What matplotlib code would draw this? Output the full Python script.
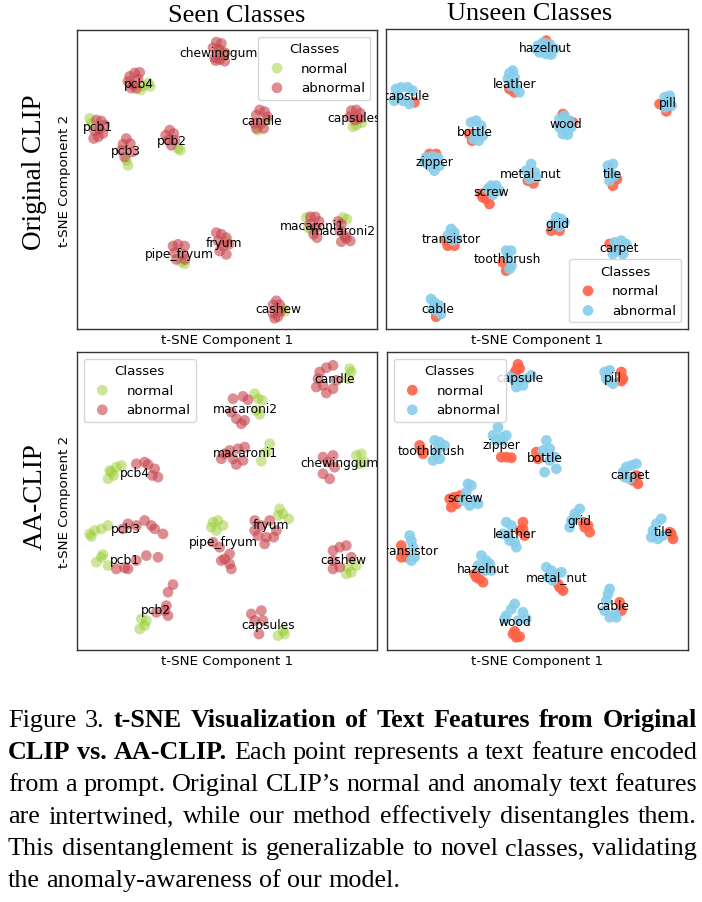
import matplotlib
matplotlib.use("Agg")
import matplotlib.pyplot as plt

# ---------------- data (t-SNE coordinates) ----------------
# Panel: Original CLIP, seen classes
so_label = {'chewinggum': (447, 90), 'pcb4': (207, 182), 'pcb1': (85, 310), 'pcb3': (170, 380),
            'pcb2': (308, 352), 'candle': (575, 292), 'capsules': (855, 283), 'macaroni1': (728, 603),
            'macaroni2': (820, 618), 'fryum': (462, 655), 'pipe_fryum': (328, 688), 'cashew': (625, 852)}
so_normal = {'chewinggum': [(455, 82), (462, 100)],
             'pcb4': [(222, 188), (236, 180), (214, 200), (242, 190)],
             'pcb1': [(60, 285), (65, 300)],
             'pcb3': [(175, 425), (170, 410)],
             'pcb2': [(325, 375), (332, 380)],
             'candle': [(565, 320), (590, 290)],
             'capsules': [(860, 305), (876, 298), (850, 310)],
             'macaroni1': [(710, 580), (715, 610), (725, 615)],
             'macaroni2': [(832, 585), (820, 580)],
             'fryum': [(470, 650)],
             'pipe_fryum': [(335, 712), (345, 718)],
             'cashew': [(645, 860), (640, 852)]}
so_abnormal = {'chewinggum': [(440, 58), (455, 62), (430, 75), (448, 80), (466, 90), (435, 105), (450, 110), (465, 115), (438, 113)],
               'pcb4': [(180, 160), (195, 150), (210, 148), (175, 175), (190, 185), (205, 168), (185, 195), (200, 196)],
               'pcb1': [(80, 290), (95, 293), (105, 305), (72, 345), (86, 340), (100, 330), (75, 322), (90, 318)],
               'pcb3': [(170, 345), (160, 362), (182, 360), (165, 400), (155, 380), (188, 385)],
               'pcb2': [(300, 320), (288, 335), (312, 330), (305, 365), (295, 350), (315, 350)],
               'candle': [(570, 260), (585, 265), (560, 275), (593, 280), (555, 300), (575, 300), (560, 315), (582, 315)],
               'capsules': [(845, 262), (860, 260), (872, 270), (840, 280), (855, 290), (870, 285)],
               'macaroni1': [(722, 578), (737, 578), (748, 592), (720, 600), (740, 610), (732, 630), (742, 640)],
               'macaroni2': [(805, 592), (815, 600), (810, 620), (825, 635), (815, 652), (842, 650), (830, 642)],
               'fryum': [(440, 625), (455, 630), (470, 640), (445, 650), (460, 665), (478, 660), (450, 680), (470, 690)],
               'pipe_fryum': [(310, 665), (325, 660), (345, 665), (315, 685), (340, 690), (320, 705), (346, 705)],
               'cashew': [(620, 828), (610, 840), (630, 840), (610, 865), (625, 875), (615, 880), (632, 860)]}

# Panel: Original CLIP, unseen classes
uo_label = {'hazelnut': (487, 72), 'leather': (395, 178), 'capsule': (70, 215), 'pill': (855, 237),
            'bottle': (275, 322), 'wood': (550, 300), 'zipper': (155, 412), 'metal_nut': (445, 446),
            'tile': (688, 448), 'screw': (325, 502), 'grid': (525, 600), 'transistor': (207, 643),
            'carpet': (708, 670), 'toothbrush': (375, 705), 'cable': (165, 855)}
uo_normal = {'hazelnut': [(490, 50)],
             'leather': [(380, 195), (395, 205)],
             'capsule': [(95, 235)],
             'pill': [(830, 240), (850, 262)],
             'bottle': [(260, 330), (268, 350)],
             'wood': [(540, 270), (570, 295)],
             'zipper': [(140, 390), (160, 390)],
             'metal_nut': [(452, 478), (435, 470)],
             'tile': [(702, 465), (690, 485)],
             'screw': [(295, 510), (310, 525), (320, 540), (300, 520)],
             'grid': [(505, 620), (530, 620)],
             'transistor': [(195, 665), (215, 665), (190, 650)],
             'carpet': [(680, 660), (690, 675)],
             'toothbrush': [(360, 715), (370, 740)],
             'cable': [(160, 878)]}
uo_abnormal = {'hazelnut': [(465, 65), (480, 56), (500, 60), (515, 75), (470, 85), (490, 90), (505, 92), (460, 75), (488, 70)],
               'leather': [(380, 148), (390, 140), (375, 165), (395, 160), (385, 185), (400, 192), (410, 205)],
               'capsule': [(40, 195), (55, 190), (75, 190), (90, 200), (45, 215), (60, 230), (80, 240), (35, 230)],
               'pill': [(845, 220), (860, 215), (850, 235), (866, 245), (846, 250)],
               'bottle': [(265, 295), (280, 290), (295, 305), (285, 330), (272, 345), (300, 335), (288, 350)],
               'wood': [(530, 285), (545, 275), (560, 290), (530, 310), (550, 320), (565, 310), (540, 330), (555, 332)],
               'zipper': [(130, 400), (150, 397), (166, 402), (140, 425), (155, 440), (170, 425), (125, 415)],
               'metal_nut': [(445, 420), (430, 440), (456, 445), (440, 465), (460, 460)],
               'tile': [(675, 425), (690, 420), (680, 445), (695, 455), (680, 470)],
               'screw': [(325, 485), (340, 485), (350, 500), (315, 495), (330, 512)],
               'grid': [(520, 580), (535, 585), (510, 600), (530, 608), (545, 595)],
               'transistor': [(205, 615), (215, 625), (195, 635), (210, 650), (222, 645)],
               'carpet': [(695, 655), (715, 650), (730, 660), (700, 680), (720, 690), (690, 690)],
               'toothbrush': [(370, 680), (385, 680), (375, 700), (386, 725), (380, 735)],
               'cable': [(145, 825), (155, 835), (170, 845), (160, 860), (175, 870), (150, 855)]}

# Panel: AA-CLIP, seen classes
sa_label = {'candle': (795, 105), 'macaroni2': (528, 193), 'macaroni1': (528, 327), 'chewinggum': (810, 355),
            'pcb4': (195, 385), 'pcb3': (170, 555), 'pcb1': (165, 648), 'pipe_fryum': (462, 593),
            'fryum': (605, 543), 'cashew': (820, 648), 'pcb2': (258, 797), 'capsules': (595, 842)}
sa_normal = {'candle': [(840, 75), (835, 105), (845, 85)],
             'macaroni2': [(555, 150), (565, 165), (578, 170), (560, 200), (570, 212)],
             'macaroni1': [(600, 300), (575, 352), (590, 325)],
             'chewinggum': [(860, 335), (875, 330), (885, 355), (870, 360)],
             'pcb4': [(115, 405), (125, 385), (140, 370), (155, 365), (120, 380), (132, 395)],
             'pcb3': [(65, 578), (75, 560), (95, 555), (115, 545), (60, 570)],
             'pcb1': [(80, 655), (95, 640), (100, 632), (115, 665)],
             'pipe_fryum': [(430, 535), (445, 530), (460, 545), (425, 550), (440, 560)],
             'fryum': [(630, 495), (640, 510), (657, 525), (625, 515)],
             'cashew': [(830, 690), (845, 685), (860, 665), (835, 670)],
             'pcb2': [(215, 825), (225, 845), (210, 855), (230, 830)],
             'capsules': [(625, 875), (645, 870), (640, 860)]}
sa_abnormal = {'candle': [(750, 85), (770, 72), (790, 65), (745, 105), (760, 125), (770, 148), (790, 135), (800, 110), (740, 130)],
               'macaroni2': [(490, 165), (520, 158), (535, 168), (485, 205), (500, 225), (515, 240), (525, 230)],
               'macaroni1': [(465, 330), (480, 320), (505, 315), (525, 310), (455, 345), (490, 345), (500, 362), (520, 350)],
               'chewinggum': [(760, 340), (790, 335), (775, 355), (795, 370), (760, 390), (780, 405)],
               'pcb4': [(200, 360), (225, 355), (235, 362), (255, 375), (265, 400), (248, 395)],
               'pcb3': [(175, 540), (200, 545), (225, 530), (245, 545), (255, 555), (280, 570), (160, 555)],
               'pcb1': [(140, 675), (175, 675), (165, 672), (230, 635), (265, 640), (200, 650)],
               'pipe_fryum': [(430, 595), (450, 610), (465, 645), (480, 630), (485, 675), (480, 660), (455, 650)],
               'fryum': [(555, 530), (575, 545), (600, 530), (620, 560), (565, 575), (590, 580), (612, 580), (585, 600), (555, 560)],
               'cashew': [(790, 620), (810, 610), (830, 605), (790, 650), (810, 670), (790, 675), (845, 640)],
               'pcb2': [(310, 722), (295, 745), (290, 785), (260, 805), (295, 815), (285, 800)],
               'capsules': [(545, 810), (575, 800), (555, 830), (568, 870), (580, 830)]}

# Panel: AA-CLIP, unseen classes
ua_label = {'capsule': (412, 100), 'pill': (690, 100), 'toothbrush': (145, 320), 'zipper': (355, 302),
            'bottle': (485, 340), 'carpet': (742, 392), 'screw': (247, 462), 'grid': (590, 530),
            'tile': (840, 563), 'leather': (395, 568), 'transistor': (80, 620), 'hazelnut': (302, 675),
            'metal_nut': (520, 697), 'cable': (690, 785), 'wood': (397, 832)}
ua_normal = {'capsule': [(405, 62), (410, 75), (395, 88), (400, 78)],
             'pill': [(715, 85), (720, 105), (715, 112)],
             'toothbrush': [(110, 305), (120, 330), (115, 320)],
             'zipper': [(355, 340), (370, 340), (385, 342)],
             'bottle': [(460, 325), (465, 345)],
             'carpet': [(760, 395), (765, 420), (750, 410)],
             'screw': [(200, 465), (215, 460), (205, 490), (220, 480), (232, 455)],
             'grid': [(600, 535), (615, 545), (620, 565), (605, 550)],
             'tile': [(865, 570), (870, 585), (860, 565)],
             'leather': [(420, 535), (420, 555), (425, 575), (410, 560)],
             'transistor': [(55, 605), (60, 625), (55, 640), (70, 640)],
             'hazelnut': [(275, 690), (290, 705), (300, 715), (280, 700)],
             'metal_nut': [(525, 720), (540, 740), (530, 730)],
             'cable': [(710, 775), (715, 800)],
             'wood': [(390, 870), (400, 880), (410, 878), (395, 862)]}
ua_abnormal = {'capsule': [(390, 105), (410, 110), (430, 105), (445, 95), (420, 125), (400, 130), (380, 100)],
               'pill': [(665, 85), (680, 80), (675, 110), (690, 120), (670, 105)],
               'toothbrush': [(155, 290), (170, 295), (185, 305), (160, 330), (150, 350), (170, 345), (165, 315)],
               'zipper': [(345, 250), (330, 275), (355, 280), (370, 275), (340, 290), (360, 290)],
               'bottle': [(490, 290), (480, 320), (500, 315), (515, 340), (500, 350), (520, 375), (485, 385)],
               'carpet': [(730, 370), (745, 365), (760, 360), (720, 385), (725, 400), (740, 405)],
               'screw': [(255, 420), (265, 425), (250, 445), (275, 470), (285, 480), (260, 485), (240, 470)],
               'grid': [(590, 495), (575, 510), (565, 530), (560, 550), (580, 520)],
               'tile': [(835, 525), (820, 540), (810, 560), (805, 580), (825, 585), (840, 575)],
               'leather': [(370, 535), (385, 545), (360, 570), (380, 590), (395, 595), (400, 610), (375, 575)],
               'transistor': [(80, 575), (85, 590), (90, 610), (95, 640), (85, 650)],
               'hazelnut': [(295, 635), (310, 650), (320, 660), (285, 665), (305, 680), (325, 680)],
               'metal_nut': [(490, 670), (505, 680), (520, 690), (535, 685), (510, 710), (495, 700)],
               'cable': [(680, 735), (675, 750), (670, 770), (665, 800), (680, 820), (695, 810), (700, 820)],
               'wood': [(395, 780), (385, 795), (370, 815), (365, 825), (420, 805), (430, 825), (405, 830)]}

col_titles = ["Seen Classes", "Unseen Classes"]
row_titles = ["Original CLIP", "AA-CLIP"]
class_names = ["normal", "abnormal"]

caption_lines = [
    [("Figure", 0), ("3.", 0), ("t-SNE", 1), ("Visualization", 1), ("of", 1), ("Text", 1),
     ("Features", 1), ("from", 1), ("Original", 1)],
    [("CLIP", 1), ("vs.", 1), ("AA-CLIP.", 1), ("Each", 0), ("point", 0), ("represents", 0),
     ("a", 0), ("text", 0), ("feature", 0), ("encoded", 0)],
    [(w, 0) for w in "from a prompt. Original CLIP\u2019s normal and anomaly text features".split()],
    [(w, 0) for w in "are intertwined, while our method effectively disentangles them.".split()],
    [(w, 0) for w in "This disentanglement is generalizable to novel classes, validating".split()],
    [(w, 0) for w in "the anomaly-awareness of our model.".split()],
]

# ---------------- figure ----------------
W, H = 702, 903
fig = plt.figure(figsize=(W / 100, H / 100), dpi=100)
fig.patch.set_facecolor("white")

def px_axes(l, t, r, b):
    return fig.add_axes([l / W, 1 - b / H, (r - l) / W, (b - t) / H])

panels = [
    dict(box=(77, 31, 377, 330), lim=(22, 922, 22, 912), lab=so_label, nor=so_normal, abn=so_abnormal,
         colors=("#9acd32", "#c8434c"), alphas=(0.5, 0.6), loc="upper right", ylab=True),
    dict(box=(386, 30, 688, 330), lim=(10, 915, 15, 915), lab=uo_label, nor=uo_normal, abn=uo_abnormal,
         colors=("#ff6347", "#87ceeb"), alphas=(0.9, 0.9), loc="lower right", ylab=False),
    dict(box=(77, 353, 377, 651), lim=(22, 922, 25, 918), lab=sa_label, nor=sa_normal, abn=sa_abnormal,
         colors=("#9acd32", "#c8434c"), alphas=(0.5, 0.6), loc="upper left", ylab=True),
    dict(box=(387, 353, 688, 651), lim=(12, 915, 25, 918), lab=ua_label, nor=ua_normal, abn=ua_abnormal,
         colors=("#ff6347", "#87ceeb"), alphas=(0.9, 0.9), loc="upper left", ylab=False),
]

for p in panels:
    ax = px_axes(*p["box"])
    x0, x1, y0, y1 = p["lim"]
    ax.set_xlim(x0, x1)
    ax.set_ylim(y1, y0)
    ax.set_xticks([])
    ax.set_yticks([])
    for s in ax.spines.values():
        s.set_color("#333333")
        s.set_linewidth(1.0)
    handles = []
    for k, (dct, name) in enumerate([(p["nor"], class_names[0]), (p["abn"], class_names[1])]):
        xs = [pt[0] for c in dct for pt in dct[c]]
        ys = [pt[1] for c in dct for pt in dct[c]]
        h = ax.scatter(xs, ys, s=60, color=p["colors"][k], alpha=p["alphas"][k],
                       edgecolors="none", label=name, zorder=2)
        handles.append(h)
    for c, (lx, ly) in p["lab"].items():
        ax.text(lx, ly, c, ha="center", va="center", fontsize=8.8, color="black",
                zorder=3, clip_on=True)
    leg = ax.legend(handles=handles, title="Classes", loc=p["loc"], fontsize=9.6,
                    title_fontsize=9.6, frameon=True)
    leg.get_frame().set_edgecolor("#cccccc")
    leg.set_zorder(5)
    ax.set_xlabel("t-SNE Component 1", fontsize=9.6, labelpad=3)
    if p["ylab"]:
        ax.set_ylabel("t-SNE Component 2", fontsize=9.6, labelpad=4)

serif = ["Liberation Serif", "DejaVu Serif"]
fig.text(237 / W, 1 - 16 / H, col_titles[0], ha="center", va="center", fontsize=19, family=serif)
fig.text(530 / W, 1 - 14 / H, col_titles[1], ha="center", va="center", fontsize=19, family=serif)
fig.text(35 / W, 1 - 172 / H, row_titles[0], ha="center", va="center", fontsize=19.5,
         rotation=90, family=serif)
fig.text(35 / W, 1 - 497 / H, row_titles[1], ha="center", va="center", fontsize=19.5,
         rotation=90, family=serif)

# ---------------- caption (justified) ----------------
renderer = fig.canvas.get_renderer()
cap_fs = 18.8
left_px, right_px = 8, 697
base0, pitch = 727, 32
tmp = fig.text(0, 0, "a a", fontsize=cap_fs, family=serif)
tmp2 = fig.text(0, 0, "aa", fontsize=cap_fs, family=serif)
space_w = tmp.get_window_extent(renderer).width - tmp2.get_window_extent(renderer).width
tmp.remove()
tmp2.remove()
for i, line in enumerate(caption_lines):
    ytxt = 1 - (base0 + i * pitch) / H
    objs = []
    for w, b in line:
        t = fig.text(0, ytxt, w, ha="left", va="baseline", fontsize=cap_fs, family=serif,
                     fontweight="bold" if b else "normal")
        objs.append(t)
    widths = [t.get_window_extent(renderer).width for t in objs]
    if i < len(caption_lines) - 1:
        gap = (right_px - left_px - sum(widths)) / (len(objs) - 1)
    else:
        gap = space_w
    x = left_px
    for t, wdt in zip(objs, widths):
        t.set_x(x / W)
        x += wdt + gap

fig.savefig("out.png", dpi=100, facecolor="white")
